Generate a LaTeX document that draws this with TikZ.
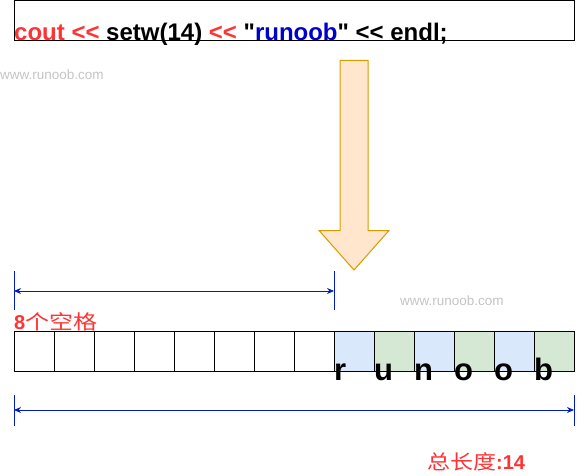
\documentclass[tikz,border=0pt]{standalone}
\usepackage{fontspec}
\setmainfont{Liberation Sans}[Ligatures=TeXOff]
\newfontfamily\cjk{Noto Sans CJK SC}
\usetikzlibrary{arrows.meta}
\definecolor{rred}{HTML}{FF3333}
\definecolor{rblue}{HTML}{0000CC}
\definecolor{dimblue}{HTML}{001DBC}
\definecolor{arrfill}{HTML}{FFE6CC}
\definecolor{arrdraw}{HTML}{D79B00}
\definecolor{cellblue}{HTML}{DAE8FC}
\definecolor{cellgreen}{HTML}{D5E8D4}
\definecolor{wmgray}{HTML}{C4C4C4}
\tikzset{
  cellbox/.style={draw=black, line width=1pt, minimum width=40pt, minimum height=40pt, inner sep=0pt, outer sep=0pt, anchor=north west},
  dimline/.style={draw=dimblue, line width=1pt, {Stealth[length=7pt,width=6pt]}-{Stealth[length=7pt,width=6pt]}},
  dimtick/.style={draw=dimblue, line width=1pt},
  watermark/.style={text=wmgray, font=\fontsize{13.5}{15}\selectfont, inner sep=0pt, anchor=west},
  letter/.style={font=\fontsize{31}{34}\selectfont\bfseries, inner sep=0pt, anchor=base west},
  redlabel/.style={text=rred, inner sep=0pt, anchor=base west}
}
\begin{document}
\begin{tikzpicture}[x=1pt, y=-1pt]
\useasboundingbox (0,0) rectangle (584,476);
% top code box
\node[draw=black, line width=1pt, minimum width=560pt, minimum height=39.5pt, inner sep=0pt, anchor=north west] (codebox) at (14,0.5) {};
\node[inner sep=0pt, anchor=base west, font=\fontsize{24}{28}\selectfont\bfseries] (code) at (14,41)
  {\textcolor{rred}{cout <<} setw(14) \textcolor{rred}{<<} "\textcolor{rblue}{runoob}" << endl;};
% watermarks
\node[watermark] (wm1) at (0,75) {www.runoob.com};
\node[watermark] (wm2) at (400,301) {www.runoob.com};
% big arrow
\draw[fill=arrfill, draw=arrdraw, line width=1pt] (340,60.5) -- (368,60.5) -- (368,230.5) -- (389,230.5) -- (354,270) -- (319,230.5) -- (340,230.5) -- cycle;
% dimension 1
\coordinate (d1a) at (14,291);
\coordinate (d1b) at (334,291);
\draw[dimtick] (14,271) -- (14,310);
\draw[dimtick] (334,271) -- (334,310);
\draw[dimline] (d1a) -- (d1b);
\node[redlabel, font=\fontsize{20}{22}\selectfont\bfseries] (spaces) at (14,329) {8\cjk\mdseries\scalebox{1.2}[1]{个空格}};
% cells
\foreach \i in {1,...,8} {
  \node[cellbox, fill=white] (c\i) at ({14+40*(\i-1)},331) {};
}
\foreach \i/\col in {9/cellblue,10/cellgreen,11/cellblue,12/cellgreen,13/cellblue,14/cellgreen} {
  \node[cellbox, fill=\col] (c\i) at ({14+40*(\i-1)},331) {};
}
% letters
\begin{scope}
\clip (0,0) rectangle (584,381);
\foreach \l [count=\k from 0] in {r,u,n,o,o,b} {
  \node[letter] (l\k) at ({334+40*\k},380) {\l};
}
\end{scope}
% dimension 2
\coordinate (d2a) at (14,410);
\coordinate (d2b) at (574,410);
\draw[dimtick] (14,395) -- (14,426);
\draw[dimtick] (574,395) -- (574,426);
\draw[dimline] (d2a) -- (d2b);
\node[redlabel, font=\fontsize{20}{22}\selectfont\bfseries] (total) at (427,469) {\cjk\mdseries\scalebox{1.15}[1]{总长度}\rmfamily\bfseries:14};
\end{tikzpicture}
\end{document}
